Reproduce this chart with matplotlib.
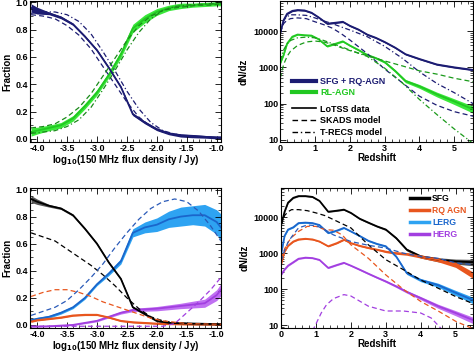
import matplotlib
matplotlib.use("Agg")
import matplotlib.pyplot as plt
from matplotlib.ticker import MultipleLocator, FixedLocator, NullFormatter
from matplotlib.lines import Line2D
import numpy as np

plt.rcParams['font.family'] = ['Liberation Sans', 'DejaVu Sans']
plt.rcParams['font.weight'] = 'bold'
plt.rcParams['axes.labelweight'] = 'bold'
plt.rcParams['font.size'] = 6.5

NAVY = '#1c1c72'
GREEN = '#22c822'
GREEN_BAND = '#3ae83a'
ORANGE = '#e8561e'
BLUE = '#1a66cc'
BLUE_BAND = '#2ea3f2'
PURPLE = '#a23fe0'
PURPLE_BAND = '#c070f2'

# ---- top left: fraction vs flux, SFG+RQ-AGN vs RL-AGN ----
flux = [-4.1, -4.0, -3.8, -3.6, -3.4, -3.2, -3.0, -2.8, -2.6, -2.4, -2.2, -2.0,
        -1.8, -1.6, -1.4, -1.2, -1.0, -0.93]
frac_sfg_rq = [0.96, 0.94, 0.92, 0.89, 0.84, 0.75, 0.65, 0.52, 0.38, 0.18, 0.12, 0.07,
               0.04, 0.025, 0.02, 0.015, 0.01, 0.01]
err_sfg_rq = [0.03, 0.025, 0.01, 0.01, 0.008, 0.008, 0.008, 0.008, 0.008, 0.01, 0.01, 0.01,
              0.01, 0.012, 0.012, 0.01, 0.01, 0.01]
frac_rl = [0.05, 0.06, 0.08, 0.10, 0.15, 0.24, 0.34, 0.47, 0.62, 0.81, 0.88, 0.93,
           0.96, 0.975, 0.98, 0.985, 0.99, 0.99]
err_rl = [0.03, 0.025, 0.02, 0.02, 0.02, 0.02, 0.02, 0.02, 0.025, 0.03, 0.03, 0.025,
          0.02, 0.02, 0.015, 0.015, 0.015, 0.015]

mflux = [-4.1, -3.9, -3.7, -3.5, -3.3, -3.1, -2.9, -2.7, -2.5, -2.3, -2.1, -1.9,
         -1.7, -1.5, -1.3, -1.1, -0.93]
skads_sfg_rq = [0.91, 0.90, 0.88, 0.83, 0.76, 0.66, 0.53, 0.40, 0.27, 0.16, 0.09, 0.05,
                0.03, 0.02, 0.015, 0.01, 0.01]
trecs_sfg_rq = [0.92, 0.93, 0.93, 0.91, 0.86, 0.77, 0.64, 0.50, 0.35, 0.22, 0.12, 0.06,
                0.035, 0.02, 0.015, 0.01, 0.01]
skads_rl = [0.08, 0.09, 0.11, 0.16, 0.23, 0.33, 0.46, 0.59, 0.72, 0.83, 0.90, 0.94,
            0.96, 0.97, 0.98, 0.98, 0.99]
trecs_rl = [0.04, 0.05, 0.06, 0.09, 0.14, 0.23, 0.36, 0.50, 0.65, 0.78, 0.88, 0.94,
            0.97, 0.98, 0.985, 0.99, 0.99]

# ---- top right: dN/dz ----
z = [0.0, 0.1, 0.2, 0.35, 0.5, 0.7, 0.9, 1.1, 1.35, 1.6, 1.8, 2.0, 2.25, 2.5, 2.75,
     3.0, 3.3, 3.6, 4.0, 4.5, 5.0, 5.54]
dndz_sfg_rq = [8500, 20000, 30000, 36000, 38000, 37000, 32000, 24000, 16000, 17000, 18000,
               14000, 11000, 8000, 6500, 5000, 3500, 2300, 1700, 1200, 1000, 850]
dndz_rl = [1300, 2200, 4500, 7000, 8000, 7700, 7500, 6000, 3800, 4500, 5200, 4000, 3000,
           2200, 1800, 1400, 800, 420, 300, 180, 115, 70]
relerr_sfg_rq = [0.05] * 22
relerr_rl = [0.08, 0.06, 0.05, 0.05, 0.04, 0.04, 0.04, 0.04, 0.05, 0.05, 0.05, 0.05, 0.05,
             0.06, 0.06, 0.07, 0.08, 0.1, 0.12, 0.15, 0.18, 0.22]

mz = [0.0, 0.1, 0.2, 0.3, 0.5, 0.75, 1.0, 1.25, 1.5, 1.75, 2.0, 2.5, 3.0, 3.5, 4.0,
      4.5, 5.0, 5.54]
skads_dndz_sfg_rq = [9000, 16000, 20000, 22000, 23000, 22000, 18000, 15000, 12000, 8500,
                     5700, 2400, 900, 380, 160, 90, 60, 45]
trecs_dndz_sfg_rq = [9000, 20000, 25000, 28000, 28000, 27000, 23000, 19000, 16000, 13000,
                     10700, 7000, 3800, 1800, 750, 360, 200, 100]
skads_dndz_rl = [500, 1200, 2000, 2800, 4000, 5000, 5300, 5000, 4300, 3500, 2900, 2100,
                 1500, 1100, 800, 650, 500, 400]
trecs_dndz_rl = [1500, 3000, 4500, 5500, 6500, 6800, 6500, 5500, 4500, 3700, 3000, 2000,
                 950, 380, 130, 50, 20, 8]

# ---- bottom left: fraction by class ----
frac_sfg = [0.93, 0.91, 0.88, 0.86, 0.81, 0.71, 0.60, 0.46, 0.34, 0.13, 0.08, 0.03,
            0.015, 0.012, 0.01, 0.008, 0.006, 0.005]
err_sfg = [0.025, 0.02, 0.01, 0.008, 0.008, 0.008, 0.008, 0.008, 0.008, 0.008, 0.008, 0.008,
           0.008, 0.008, 0.008, 0.008, 0.008, 0.008]
frac_rq = [0.025, 0.035, 0.045, 0.055, 0.07, 0.075, 0.075, 0.055, 0.03, 0.02, 0.015, 0.01,
           0.008, 0.006, 0.005, 0.004, 0.003, 0.003]
err_rq = [0.006] * 18
frac_lerg = [0.035, 0.045, 0.06, 0.09, 0.13, 0.2, 0.3, 0.38, 0.47, 0.68, 0.72, 0.74,
             0.78, 0.80, 0.81, 0.81, 0.76, 0.72]
err_lerg = [0.01, 0.01, 0.01, 0.01, 0.01, 0.01, 0.01, 0.015, 0.02, 0.03, 0.04, 0.05,
            0.06, 0.07, 0.07, 0.08, 0.09, 0.1]
frac_herg = [-0.012, -0.012, -0.01, -0.005, 0.0, 0.015, 0.03, 0.06, 0.09, 0.11, 0.115, 0.12,
             0.13, 0.14, 0.15, 0.16, 0.22, 0.26]
err_herg = [0.004, 0.004, 0.004, 0.005, 0.005, 0.006, 0.007, 0.008, 0.01, 0.012, 0.014, 0.016,
            0.018, 0.02, 0.025, 0.03, 0.04, 0.045]

skads_sfg = [0.68, 0.65, 0.62, 0.56, 0.50, 0.44, 0.37, 0.29, 0.20, 0.12, 0.06, 0.03,
             0.015, 0.01, 0.008, 0.006, 0.005]
skads_rq = [0.21, 0.24, 0.26, 0.26, 0.24, 0.21, 0.17, 0.14, 0.11, 0.08, 0.05, 0.03,
            0.02, 0.01, 0.008, 0.006, 0.005]
skads_lerg = [0.07, 0.10, 0.13, 0.18, 0.26, 0.35, 0.45, 0.57, 0.68, 0.78, 0.86, 0.91,
              0.93, 0.91, 0.84, 0.73, 0.62]
skads_herg = [-0.01, -0.01, -0.01, -0.01, -0.01, -0.01, -0.01, -0.01, -0.01, -0.01, -0.01,
              -0.01, 0.01, 0.09, 0.17, 0.26, 0.35]

# ---- bottom right: dN/dz by class ----
z2 = [0.0, 0.1, 0.2, 0.35, 0.5, 0.7, 0.9, 1.1, 1.35, 1.6, 1.8, 2.0, 2.25, 2.5, 2.75,
      3.0, 3.3, 3.6, 4.0, 4.5, 5.0, 5.5]
dndz_sfg = [6000, 14000, 25000, 34000, 38000, 38000, 36000, 28000, 14000, 15000, 16000,
            13000, 9000, 7000, 5500, 4500, 2600, 1250, 810, 660, 590, 560]
dndz_rq = [480, 1100, 1600, 2100, 2400, 2500, 2400, 2100, 1550, 1900, 2350, 1900, 1600,
           1400, 1250, 1100, 1000, 950, 810, 660, 480, 250]
dndz_lerg = [900, 3000, 4500, 5200, 6800, 7000, 6800, 6000, 3600, 4200, 5000, 4000, 3000,
             2200, 1800, 1550, 800, 280, 180, 130, 80, 50]
dndz_herg = [250, 350, 450, 560, 700, 750, 730, 650, 390, 470, 540, 450, 350, 270, 210,
             165, 120, 85, 57, 34, 22, 14]
relerr2 = [0.04, 0.04, 0.04, 0.04, 0.04, 0.04, 0.04, 0.04, 0.04, 0.04, 0.04, 0.04, 0.05,
           0.05, 0.05, 0.06, 0.07, 0.08, 0.1, 0.13, 0.16, 0.2]

mz2 = [0.0, 0.1, 0.2, 0.3, 0.5, 0.75, 1.0, 1.25, 1.5, 1.75, 2.0, 2.5, 3.0, 3.5, 4.0,
       4.5, 5.0, 5.5]
skads_dndz_sfg = [6000, 11000, 14000, 16000, 16000, 15000, 13000, 11000, 8500, 6500, 5000,
                  1700, 660, 350, 180, 107, 63, 40]
skads_dndz_rq = [700, 1300, 2000, 2700, 4000, 5500, 5500, 4500, 4300, 3200, 1700, 720,
                 250, 100, 46, 25, 13, 8]
skads_dndz_lerg = [600, 1200, 2000, 2800, 5000, 6000, 5800, 4500, 3200, 2600, 2100, 1650,
                   1380, 1000, 810, 720, 540, 480]
mz_herg = [0.9, 1.0, 1.15, 1.3, 1.5, 1.8, 2.0, 2.5, 3.0, 3.5, 4.0, 4.3, 4.5, 4.65]
skads_dndz_herg = [7, 11, 22, 37, 55, 71, 65, 34, 25, 25, 22, 16, 10, 7]

DASH = (0, (4, 2.5))
DASHDOT = (0, (4, 2, 1, 2))


def style_axes(ax):
    ax.tick_params(which='both', direction='in', top=True, right=True, labelsize=6.5, pad=1.5)
    ax.tick_params(which='major', length=4, width=0.6)
    ax.tick_params(which='minor', length=2, width=0.5)
    for s in ax.spines.values():
        s.set_linewidth(0.8)


def data_band(ax, x, y, e, line_col, band_col, rel=False):
    y = np.array(y)
    e = np.array(e)
    if rel:
        lo, hi = y * (1 - e), y * (1 + e)
    else:
        lo, hi = y - e, y + e
    ax.fill_between(x, lo, hi, color=band_col, lw=0)
    ax.plot(x, y, color=line_col, lw=1.3)


def frac_axes(ax):
    ax.set_xlim(-4.12, -0.93)
    ax.set_ylim(-0.025, 1.01)
    ax.xaxis.set_minor_locator(MultipleLocator(0.1))
    ax.yaxis.set_minor_locator(MultipleLocator(0.05))
    ax.set_xticks(np.arange(-4.0, -0.99, 0.5))
    ax.set_xticklabels(['-4.0', '-3.5', '-3.0', '-2.5', '-2.0', '-1.5', '-1.0'])
    ax.set_yticks([0.0, 0.2, 0.4, 0.6, 0.8, 1.0])
    ax.set_yticklabels(['0.0', '0.2', '0.4', '0.6', '0.8', '1.0'])
    ax.set_xlabel(r'log$_{10}$(150 MHz flux density / Jy)', fontsize=7, labelpad=0)
    ax.set_ylabel('Fraction', fontsize=7, labelpad=2)
    style_axes(ax)


def dndz_axes(ax, ylo, yhi, xhi):
    ax.set_yscale('log')
    ax.set_xlim(0, xhi)
    ax.set_ylim(ylo, yhi)
    ax.xaxis.set_major_locator(MultipleLocator(1))
    ax.xaxis.set_minor_locator(MultipleLocator(0.2))
    ax.yaxis.set_major_locator(FixedLocator([10, 100, 1000, 10000]))
    ax.set_yticklabels(['10', '100', '1000', '10000'])
    ax.yaxis.set_minor_formatter(NullFormatter())
    ax.set_xlabel('Redshift', fontsize=7, labelpad=0)
    ax.set_ylabel('dN/dz', fontsize=7, labelpad=3)
    style_axes(ax)


fig = plt.figure(figsize=(4.74, 3.53), dpi=100)

# top left
ax1 = fig.add_axes([0.063, 0.597, 0.403, 0.400])
data_band(ax1, flux, frac_rl, err_rl, GREEN, GREEN_BAND)
data_band(ax1, flux, frac_sfg_rq, err_sfg_rq, NAVY, NAVY)
ax1.plot(mflux, skads_sfg_rq, color=NAVY, lw=0.9, ls=DASH)
ax1.plot(mflux, trecs_sfg_rq, color=NAVY, lw=0.9, ls=DASHDOT)
ax1.plot(mflux, skads_rl, color='#1a8a1a', lw=0.9, ls=DASH)
ax1.plot(mflux, trecs_rl, color='#1a8a1a', lw=0.9, ls=DASHDOT)
frac_axes(ax1)

# top right
ax2 = fig.add_axes([0.591, 0.598, 0.407, 0.399])
data_band(ax2, z, dndz_rl, relerr_rl, GREEN, GREEN_BAND, rel=True)
data_band(ax2, z, dndz_sfg_rq, relerr_sfg_rq, NAVY, NAVY, rel=True)
ax2.plot(mz, skads_dndz_sfg_rq, color=NAVY, lw=0.9, ls=DASH)
ax2.plot(mz, trecs_dndz_sfg_rq, color=NAVY, lw=0.9, ls=DASHDOT)
ax2.plot(mz, skads_dndz_rl, color='#1a9a1a', lw=0.9, ls=DASH)
ax2.plot(mz, trecs_dndz_rl, color='#1a9a1a', lw=0.9, ls=DASHDOT)
dndz_axes(ax2, 8.8, 67000, 5.54)

h1 = [Line2D([], [], color=NAVY, lw=3), Line2D([], [], color=GREEN, lw=3)]
leg1 = ax2.legend(h1, ['SFG + RQ-AGN', 'RL-AGN'], loc='center left',
                  bbox_to_anchor=(0.02, 0.39), frameon=False, fontsize=6.5,
                  handlelength=2.6, handletextpad=0.5, labelspacing=0.25,
                  labelcolor=[NAVY, GREEN])
ax2.add_artist(leg1)
h2 = [Line2D([], [], color='k', lw=1.2),
      Line2D([], [], color='k', lw=1.0, ls=DASH),
      Line2D([], [], color='k', lw=1.0, ls=DASHDOT)]
ax2.legend(h2, ['LoTSS data', 'SKADS model', 'T-RECS model'], loc='center left',
           bbox_to_anchor=(0.02, 0.15), frameon=False, fontsize=6.5,
           handlelength=2.6, handletextpad=0.5, labelspacing=0.3)

# bottom left
ax3 = fig.add_axes([0.063, 0.070, 0.403, 0.397])
data_band(ax3, flux, frac_lerg, err_lerg, BLUE, BLUE_BAND)
data_band(ax3, flux, frac_herg, err_herg, PURPLE, PURPLE_BAND)
data_band(ax3, flux, frac_rq, err_rq, ORANGE, ORANGE)
data_band(ax3, flux, frac_sfg, err_sfg, 'k', '#555555')
ax3.plot(mflux, skads_sfg, color='k', lw=0.9, ls=DASH)
ax3.plot(mflux, skads_rq, color=ORANGE, lw=0.9, ls=DASH)
ax3.plot(mflux, skads_lerg, color='#2a5ab8', lw=0.9, ls=DASH)
ax3.plot(mflux, skads_herg, color=PURPLE, lw=0.9, ls=DASH)
frac_axes(ax3)

# bottom right
ax4 = fig.add_axes([0.593, 0.070, 0.405, 0.397])
data_band(ax4, z2, dndz_sfg, relerr2, 'k', '#555555', rel=True)
data_band(ax4, z2, dndz_rq, relerr2, ORANGE, ORANGE, rel=True)
data_band(ax4, z2, dndz_lerg, relerr2, BLUE, BLUE_BAND, rel=True)
data_band(ax4, z2, dndz_herg, relerr2, PURPLE, PURPLE_BAND, rel=True)
ax4.plot(mz2, skads_dndz_sfg, color='k', lw=0.9, ls=DASH)
ax4.plot(mz2, skads_dndz_rq, color=ORANGE, lw=0.9, ls=DASH)
ax4.plot(mz2, skads_dndz_lerg, color='#2a5ab8', lw=0.9, ls=DASH)
ax4.plot(mz_herg, skads_dndz_herg, color=PURPLE, lw=0.9, ls=DASH)
dndz_axes(ax4, 8.3, 63000, 5.5)

h4 = [Line2D([], [], color=c, lw=2.5) for c in ['k', ORANGE, BLUE_BAND, PURPLE]]
ax4.legend(h4, ['SFG', 'RQ AGN', 'LERG', 'HERG'], loc='center left',
           bbox_to_anchor=(0.63, 0.80), frameon=False, fontsize=6.2,
           handlelength=2.2, handletextpad=0.4, labelspacing=0.35,
           labelcolor=['k', ORANGE, BLUE, PURPLE])

fig.savefig('out.png', dpi=100)
